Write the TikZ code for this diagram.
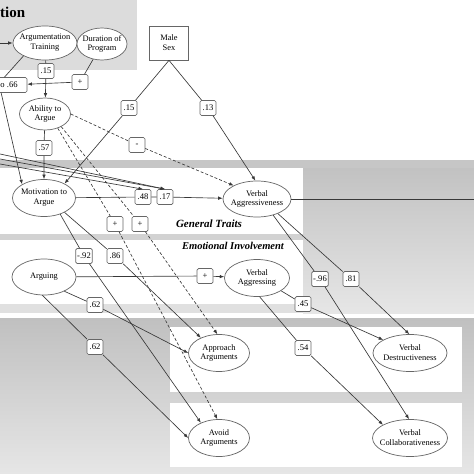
\documentclass[tikz,border=0pt]{standalone}
\usepackage{fontspec}
\setmainfont{Liberation Serif}
\usetikzlibrary{arrows.meta,shapes.geometric}
\definecolor{panelgray}{HTML}{DCDCDC}
\definecolor{bandgray}{HTML}{C6C6C6}
\definecolor{shadetop}{HTML}{C0C0C0}
\definecolor{shadebot}{HTML}{E6E6E6}
\definecolor{bandmid}{HTML}{D2D2D2}
\definecolor{bandlow}{HTML}{E0E0E0}
\definecolor{linegray}{HTML}{383838}
\definecolor{boxgray}{HTML}{666666}

\begin{document}
\begin{tikzpicture}[x=1pt,y=-1pt,>={Latex[length=4.5pt,width=3.5pt]},
  var/.style={ellipse,draw=boxgray,fill=white,line width=0.7pt,inner xsep=-6pt,inner ysep=-2pt,align=center,font=\fontsize{8.4}{9.8}\selectfont},
  obs/.style={rectangle,draw=boxgray,fill=white,line width=0.7pt,align=center,font=\fontsize{8.4}{9.8}\selectfont},
  coef/.style={draw=boxgray,fill=white,rounded corners=1.5pt,line width=0.7pt,inner sep=1.5pt,minimum width=16pt,minimum height=15pt,font=\fontsize{8.6}{9}\selectfont},
  link/.style={draw=linegray,line width=0.65pt},
  dlink/.style={link,dash pattern=on 3pt off 2pt}]
\useasboundingbox (0,0) rectangle (474,474);
\clip (0,0) rectangle (474,474);

% background panels
\fill[panelgray] (0,0) rectangle (137,70);
\shade[top color=shadetop,bottom color=shadebot] (303,160) rectangle (474,313);
\fill[bandgray] (0,160) rectangle (474,168);
\fill[bandmid] (0,234) rectangle (303,240);
\fill[bandlow] (0,304) rectangle (303,313);
\shade[top color=shadetop,bottom color=shadebot] (0,318) rectangle (474,474);
\fill[white] (170,327) rectangle (462,392);
\fill[white] (170,403) rectangle (462,467);

% titles
\node[font=\fontsize{15}{15}\selectfont\bfseries,anchor=west,inner sep=0pt] (ttl) at (0,12) {tion};
\node[font=\fontsize{11}{11}\selectfont\bfseries\itshape] (gtraits) at (209,224) {General Traits};
\node[font=\fontsize{10.5}{11}\selectfont\bfseries\itshape] (emoinv) at (233,246) {Emotional Involvement};

% variables
\node[var,minimum width=64pt,minimum height=34pt] (argtr) at (45,43) {Argumentation\\Training};
\node[var,minimum width=50pt,minimum height=32pt] (dur) at (102,44) {Duration of\\Program};
\node[obs,minimum width=39pt,minimum height=34pt] (male) at (169,43) {Male\\Sex};
\node[var,minimum width=51pt,minimum height=32pt] (abil) at (45,114) {Ability to\\Argue};
\node[var,minimum width=63pt,minimum height=37pt] (motiv) at (44,198) {Motivation to\\Argue};
\node[var,minimum width=68pt,minimum height=36pt] (vagv) at (257,199) {Verbal\\Aggressiveness};
\node[var,minimum width=64pt,minimum height=36pt] (argu) at (44,277) {Arguing};
\node[var,minimum width=65pt,minimum height=37pt] (vagg) at (257,278) {Verbal\\Aggressing};
\node[var,minimum width=61pt,minimum height=37pt] (appr) at (219,353) {Approach\\Arguments};
\node[var,minimum width=61pt,minimum height=37pt] (avoid) at (219,438) {Avoid\\Arguments};
\node[var,minimum width=74pt,minimum height=37pt] (vdes) at (410,353) {Verbal\\Destructiveness};
\node[var,minimum width=75pt,minimum height=37pt] (vcol) at (410,438) {Verbal\\Collaborativeness};

% coefficients
\node[coef] (c15a) at (46,71) {.15};
\node[coef] (cplus1) at (80,82) {+};
\node[coef,minimum width=36pt] (c66) at (9,85) {o .66};
\node[coef] (c57) at (44,148) {.57};
\node[coef] (c15b) at (129,108) {.15};
\node[coef] (c13) at (208,108) {.13};
\node[coef] (cminus) at (137,145) {-};
\node[coef] (c48) at (143,197) {.48};
\node[coef] (c17) at (165,197) {.17};
\node[coef] (cplus2) at (115,224) {+};
\node[coef] (cplus3) at (140,224) {+};
\node[coef] (c92) at (84,256) {-.92};
\node[coef] (c86) at (115,256) {.86};
\node[coef] (cplus4) at (205,276) {+};
\node[coef] (c96) at (320,279) {-.96};
\node[coef] (c81) at (351,279) {.81};
\node[coef] (c62a) at (95,305) {.62};
\node[coef] (c62b) at (95,347) {.62};
\node[coef] (c45) at (303,304) {.45};
\node[coef] (c54) at (303,348) {.54};

% free ends at the picture edge
\coordinate (inL) at (0,43);
\coordinate (modA) at (0,154);
\coordinate (modB) at (0,159);
\coordinate (modC) at (0,164);
\coordinate (outR) at (474,199);

% paths
\draw[link,->] (inL) -- (argtr);
\draw[link,->] (argtr) -- (c15a) -- (abil);
\draw[link] (dur) -- (cplus1);
\draw[link,->] (cplus1) -- (c66);
\draw[link] (argtr.211) -- (c66.120);
\draw[link,->] (c66.225) -- (motiv.148);
\draw[link,->] (abil) -- (c57) -- (motiv);
\draw[link,->] (male.south) -- (c15b) -- (motiv.35);
\draw[link,->] (male.south) -- (c13) -- (vagv.95);
\draw[dlink,->] (abil.east) -- (cminus) -- (vagv.150);
\draw[link,->] (motiv) -- (c48) -- (c17) -- (vagv);
\draw[link,->] (modA) -- (c17.north);
\draw[link,->] (modB) -- (c17.north);
\draw[link,->] (modC) -- (c48.north);
\draw[link] (vagv) -- (outR);
\draw[dlink,->] (abil.-48) -- (cplus2) -- (avoid.95);
\draw[dlink,->] (abil.-38) -- (cplus3) -- (appr.95);
\draw[link,->] (argu) -- (cplus4) -- (vagg);
\draw[link,->] (argu.-35) -- (c62a) -- (appr.west);
\draw[link,->] (argu.-95) -- (c62b) -- (avoid.west);
\draw[link,->] (motiv.-35) -- (c86) -- (appr.140);
\draw[link,->] (motiv.-45) -- (c92) -- (avoid.140);
\draw[link,->] (vagg.-28) -- (c45) -- (vdes.154);
\draw[link,->] (vagg.-82) -- (c54) -- (vcol.154);
\draw[link,->] (vagv.-45) -- (c96) -- (vcol.93);
\draw[link,->] (vagv.-35) -- (c81) -- (vdes.92);
\end{tikzpicture}
\end{document}
